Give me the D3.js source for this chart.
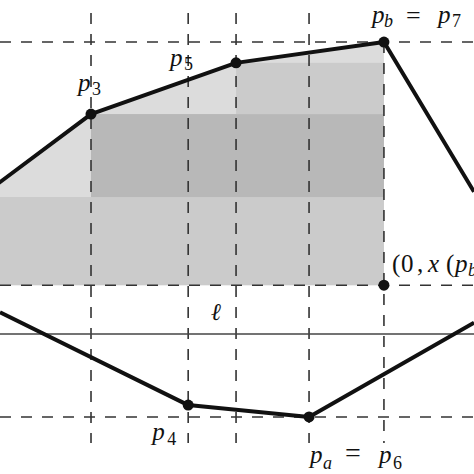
<!DOCTYPE html>
<html>
<head>
<meta charset="utf-8">
<script src="https://cdn.jsdelivr.net/npm/d3@7"></script>
<style>
  html, body { margin: 0; padding: 0; background: #fff; }
  svg { display: block; }
</style>
</head>
<body>
<svg id="chart" width="474" height="474"></svg>
<script>
// ---- data (coordinates in diagram units, line ℓ is y = 0) ----
const upperChain = [[-0.42, 2.89], [1.92, 4.64], [4.98, 5.72], [8.10, 6.16], [10.0, 3.00]];
const lowerChain = [[0.0, 0.46], [3.97, -1.50], [6.52, -1.75], [10.0, 0.24]];
const markedPoints = [[1.92, 4.64], [4.98, 5.72], [8.10, 6.16], [3.97, -1.50], [6.52, -1.75], [8.10, 1.03]];
const gridX = [1.92, 3.97, 4.98, 6.52, 8.10];
const gridXTop = [6.77, 6.77, 6.77, 6.77, 6.16];
const gridBottom = -2.30;
const gridY = [6.16, 1.03, -1.75];
const bandX0 = [-0.42, 1.92, 4.98];
const bandX1 = [8.10, 8.10, 8.10];
const bandY0 = [1.03, 2.89, 4.64];
const bandY1 = [2.89, 4.64, 5.72];
const bandShade = ["#cbcbcb", "#b8b8b8", "#cbcbcb"];
const lightRegion = [[-0.42, 2.89], [1.92, 4.64], [4.98, 5.72], [8.10, 6.16], [8.10, 1.03], [-0.42, 1.03]];

const svg = d3.select("#chart");
const x = d3.scaleLinear().domain([0, 10]).range([0, 474]);
const y = d3.scaleLinear().domain([0, 10]).range([334, 334 - 474]);

// light region under upper chain
svg.append("path")
  .attr("d", d3.line().x(d => x(d[0])).y(d => y(d[1]))(lightRegion) + "Z")
  .attr("fill", "#dcdcdc");

// staircase bands
svg.selectAll("rect.band").data(bandX0).enter().append("rect")
  .attr("class", "band")
  .attr("x", (d, i) => x(bandX0[i]))
  .attr("width", (d, i) => x(bandX1[i]) - x(bandX0[i]))
  .attr("y", (d, i) => y(bandY1[i]))
  .attr("height", (d, i) => y(bandY0[i]) - y(bandY1[i]))
  .attr("fill", (d, i) => bandShade[i]);

// dashed grid
const dash = "11,10";
svg.selectAll("line.vg").data(gridX).enter().append("line")
  .attr("class", "vg")
  .attr("x1", d => x(d)).attr("x2", d => x(d))
  .attr("y1", (d, i) => y(gridXTop[i])).attr("y2", y(gridBottom))
  .attr("stroke", "#333").attr("stroke-width", 1.6).attr("stroke-dasharray", dash);
svg.selectAll("line.hg").data(gridY).enter().append("line")
  .attr("class", "hg")
  .attr("x1", x(0)).attr("x2", x(10))
  .attr("y1", d => y(d)).attr("y2", d => y(d))
  .attr("stroke", "#333").attr("stroke-width", 1.6).attr("stroke-dasharray", dash);

// line ℓ
svg.append("line")
  .attr("x1", x(0)).attr("x2", x(10))
  .attr("y1", y(0)).attr("y2", y(0))
  .attr("stroke", "#444").attr("stroke-width", 1.4);

// chains
const lineGen = d3.line().x(d => x(d[0])).y(d => y(d[1]));
[upperChain, lowerChain].forEach(c => {
  svg.append("path").attr("d", lineGen(c))
    .attr("fill", "none").attr("stroke", "#111").attr("stroke-width", 4)
    .attr("stroke-linejoin", "round");
});

// points
svg.selectAll("circle").data(markedPoints).enter().append("circle")
  .attr("cx", d => x(d[0])).attr("cy", d => y(d[1])).attr("r", 5.5)
  .attr("fill", "#111");

// labels
const serif = "'Liberation Serif', 'Times New Roman', serif";
function label(parts) {
  const t = svg.append("text").attr("font-family", serif).attr("fill", "#111");
  parts.forEach(p => {
    t.append("tspan").attr("x", p.x).attr("y", p.y)
      .attr("font-size", p.s).attr("font-style", p.i ? "italic" : "normal")
      .text(p.t);
  });
}
const P = 25, S = 18;
// p3
{ const px = x(1.92), py = y(4.64);
  label([{t: "p", x: px - 13, y: py - 23, s: P, i: 1}, {t: "3", x: px + 1, y: py - 19, s: S}]); }
// p5
{ const px = x(4.98), py = y(5.72);
  label([{t: "p", x: px - 66, y: py + 3, s: P, i: 1}, {t: "5", x: px - 52, y: py + 7, s: S}]); }
// pb = p7
{ const px = x(8.10), py = y(6.16);
  label([{t: "p", x: px - 12, y: py - 19, s: P, i: 1}, {t: "b", x: px + 0, y: py - 15, s: S, i: 1},
         {t: "=", x: px + 22, y: py - 18, s: 26}, {t: "p", x: px + 54, y: py - 19, s: P, i: 1},
         {t: "7", x: px + 68, y: py - 15, s: S}]); }
// (0, x(pb))
{ const px = x(8.10), py = y(1.03);
  label([{t: "(", x: px + 8, y: py - 13, s: P}, {t: "0", x: px + 17, y: py - 13, s: P},
         {t: ",", x: px + 33, y: py - 13, s: P}, {t: "x", x: px + 44, y: py - 13, s: P, i: 1},
         {t: "(", x: px + 62, y: py - 13, s: P}, {t: "p", x: px + 71, y: py - 13, s: P, i: 1},
         {t: "b", x: px + 84, y: py - 9, s: S, i: 1}, {t: "))", x: px + 94, y: py - 13, s: P}]); }
// ℓ
label([{t: "ℓ", x: 211, y: y(0) - 14, s: 24, i: 1}]);
// p4
{ const px = x(3.97), py = y(-1.50);
  label([{t: "p", x: px - 36, y: py + 35, s: P, i: 1}, {t: "4", x: px - 21, y: py + 40, s: S}]); }
// pa = p6
{ const px = x(6.52), py = y(-1.75);
  label([{t: "p", x: px + 1, y: py + 46, s: P, i: 1}, {t: "a", x: px + 14, y: py + 52, s: S, i: 1},
         {t: "=", x: px + 36, y: py + 45, s: 28}, {t: "p", x: px + 70, y: py + 46, s: P, i: 1},
         {t: "6", x: px + 84, y: py + 52, s: S}]); }
</script>
</body>
</html>
